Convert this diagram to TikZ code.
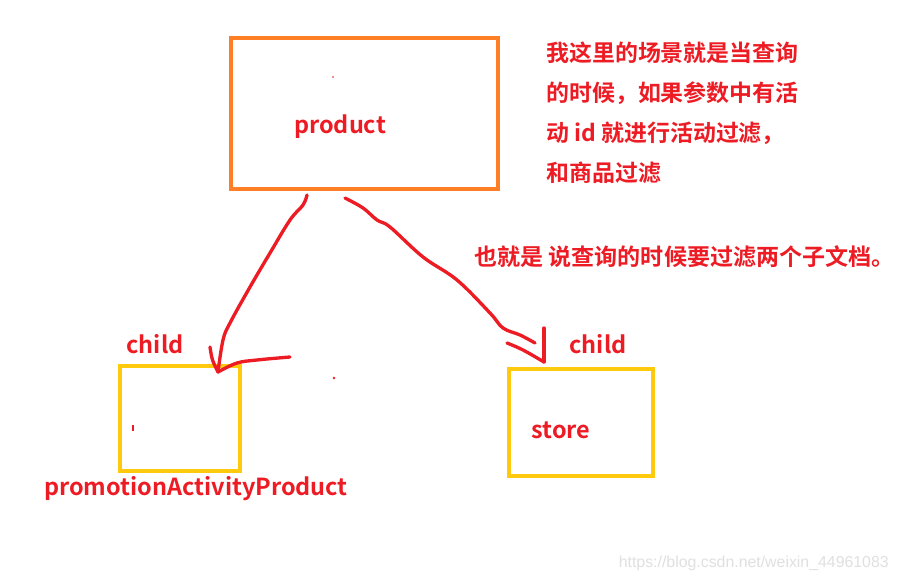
\documentclass[tikz,border=0pt]{standalone}
\usepackage{fontspec}
\newfontfamily\cjk{Noto Sans CJK SC Bold}
\setmainfont{Noto Sans CJK SC Bold}
\begin{document}
\begin{tikzpicture}[x=0.75pt,y=-0.75pt,
  penred/.style={draw=pred,line width=2.5pt,line cap=round,line join=round},
  redtext/.style={text=pred,font=\cjk\fontsize{17.6}{20}\selectfont,inner sep=0pt},
  blocktext/.style={redtext,font=\cjk\fontsize{17.2}{20}\selectfont,anchor=west},
  orangebox/.style={draw=porange,line width=3pt,inner sep=0pt},
  yellowbox/.style={draw=pyellow,line width=3pt,inner sep=0pt}]
\definecolor{pred}{HTML}{ED1C24}
\definecolor{porange}{HTML}{FF7F27}
\definecolor{pyellow}{HTML}{FFC90E}
\useasboundingbox (0,0) rectangle (899,580);
\fill[white] (0,0) rectangle (899,580);
% boxes
\draw[orangebox] (231,38) rectangle (498,189);
\draw[yellowbox] (120,366) rectangle (240,471);
\draw[yellowbox] (509,369) rectangle (653,476);
% texts
\node[redtext] (product) at (340,127) {product};
\node[redtext] (child1) at (155,344) {child};
\node[redtext] (child2) at (598,344) {child};
\node[redtext] (store) at (561,430) {store};
\node[redtext] (pap) at (196,489) {promotionActivityProduct};
\node[blocktext] (t1) at (546,53) {我这里的场景就是当查询};
\node[blocktext] (t2) at (546,93) {的时候，如果参数中有活};
\node[blocktext] (t3) at (546,133) {动 id 就进行活动过滤，};
\node[blocktext] (t4) at (546,173) {和商品过滤};
\node[redtext,font=\cjk\fontsize{17.3}{20}\selectfont,anchor=west] (t5) at (474,257) {也就是 说查询的时候要过滤两个子文档。};
\node[text=black!12,font=\fontspec{Liberation Sans}\fontsize{11.9}{13}\selectfont,anchor=east,inner sep=0pt] (wm) at (889,563) {https://blog.csdn.net/weixin\_44961083};
% small marks
\fill[pred] (333,77) circle (0.9);
\fill[pred] (334,378) circle (1.3);
\draw[pred,line width=1pt] (133,425) -- (133,431);
% left arrow
\coordinate (la0) at (307,195);
\coordinate (la1) at (218,372);
\draw[penred] plot[smooth,tension=0.6] coordinates {(la0) (303,205) (290,220) (270,253) (250,287) (230,323) (223,340) (la1)};
\draw[penred] (210,347) .. controls (212,360) .. (la1);
\draw[penred] plot[smooth,tension=0.6] coordinates {(la1) (237,363) (257,360) (290,357)};
% right arrow
\coordinate (ra0) at (345,198);
\coordinate (ra1) at (544,362);
\draw[penred] plot[smooth,tension=0.6] coordinates {(ra0) (363,208) (377,220) (390,227) (423,257) (457,280) (490,313) (503,328) (520,335) (535,343)};
\draw[penred] plot[smooth,tension=0.6] coordinates {(507,343) (523,350) (ra1)};
\draw[penred] (544,328) -- (ra1);
\end{tikzpicture}
\end{document}
